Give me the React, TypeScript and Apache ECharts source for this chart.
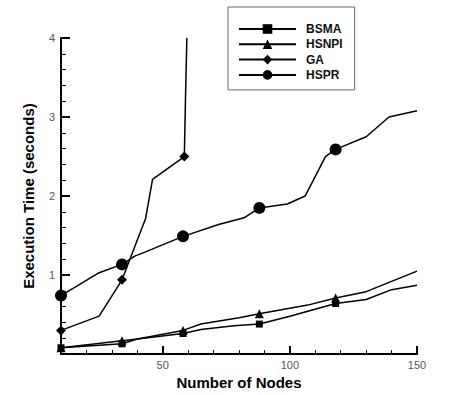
import React, { useEffect, useRef } from "react";
import * as echarts from "echarts";

const seriesNames = ["BSMA", "HSNPI", "GA", "HSPR"];
const seriesSymbols = ["rect", "triangle", "diamond", "circle"];
const seriesSymbolSizes = [7, 9, 10, 12];

const bsmaX = [10, 34, 40, 58, 65, 78, 88, 100, 118, 130, 139.5, 150];
const bsmaY = [0.08, 0.13, 0.19, 0.26, 0.31, 0.36, 0.38, 0.48, 0.64, 0.69, 0.81, 0.87];
const bsmaMarked = [10, 34, 58, 88, 118];

const hsnpiX = [10, 34, 40, 58, 65, 80, 88, 107, 118, 130, 150];
const hsnpiY = [0.08, 0.17, 0.19, 0.3, 0.38, 0.46, 0.51, 0.62, 0.71, 0.79, 1.05];
const hsnpiMarked = [10, 34, 58, 88, 118];

const gaX = [10, 25, 34, 43.3, 46, 58.5, 59, 59.5];
const gaY = [0.3, 0.48, 0.94, 1.72, 2.21, 2.5, 3.3, 4.0];
const gaMarked = [10, 34, 58.5];

const hsprX = [10, 25, 34, 39, 43, 58, 72, 82, 88, 99, 106, 114, 118, 130, 139, 150];
const hsprY = [0.74, 1.03, 1.135, 1.24, 1.29, 1.49, 1.64, 1.725, 1.85, 1.9, 2.0, 2.5, 2.59, 2.75, 3.0, 3.08];
const hsprMarked = [10, 34, 58, 88, 118];

const xMajorTicks = [50, 100, 150];

const FONT = "'Liberation Sans', Arial, Helvetica, sans-serif";

function buildData(xs: number[], ys: number[], marked: number[]) {
  return xs.map((x, i) => {
    const item: any = { value: [x, ys[i]] };
    if (!marked.includes(x)) item.symbol = "none";
    return item;
  });
}

export default function App() {
  const ref = useRef<HTMLDivElement>(null);
  useEffect(() => {
    if (!ref.current) return;
    const chart = echarts.init(ref.current, null, { renderer: "svg" });
    const allX = [bsmaX, hsnpiX, gaX, hsprX];
    const allY = [bsmaY, hsnpiY, gaY, hsprY];
    const allM = [bsmaMarked, hsnpiMarked, gaMarked, hsprMarked];
    const series = seriesNames.map((name, k) => ({
      name,
      type: "line",
      xAxisIndex: 0,
      yAxisIndex: 0,
      data: buildData(allX[k], allY[k], allM[k]),
      symbol: seriesSymbols[k],
      symbolSize: seriesSymbolSizes[k],
      showSymbol: true,
      clip: false,
      lineStyle: { color: "#000", width: 1.5 },
      itemStyle: { color: "#000" },
      emphasis: { disabled: true },
    }));
    chart.setOption({
      animation: false,
      backgroundColor: "#fff",
      textStyle: { fontFamily: FONT },
      grid: { left: 61, right: 57, top: 38, bottom: 33, containLabel: false },
      legend: {
        orient: "vertical",
        left: 228,
        top: 7,
        data: seriesNames,
        itemWidth: 57,
        itemHeight: 12,
        itemGap: 3.3,
        padding: [16, 12, 9, 10],
        borderColor: "#666",
        borderWidth: 1,
        backgroundColor: "#fff",
        textStyle: {
          fontFamily: FONT,
          fontSize: 12,
          fontWeight: "bold",
          color: "#111",
          lineHeight: 12,
          padding: [0, 0, 0, 5],
        },
        selectedMode: false,
      },
      xAxis: [
        {
          type: "value",
          min: 10,
          max: 150,
          interval: 10,
          name: "Number of Nodes",
          nameLocation: "middle",
          nameGap: 12,
          nameTextStyle: { fontFamily: FONT, fontSize: 15, fontWeight: "bold", color: "#000" },
          axisLine: { show: true, onZero: false, lineStyle: { color: "#000", width: 2 } },
          axisTick: { show: true, inside: true, length: 4, lineStyle: { color: "#000", width: 1 } },
          axisLabel: {
            show: true,
            margin: 5,
            fontSize: 11,
            color: "#555",
            fontFamily: FONT,
            formatter: (v: number) => (xMajorTicks.includes(v) ? String(v) : ""),
          },
          splitLine: { show: false },
        },
        {
          type: "value",
          min: 10,
          max: 150,
          position: "bottom",
          axisLine: { show: false, onZero: false },
          axisTick: {
            show: true,
            inside: true,
            length: 8,
            customValues: xMajorTicks,
            lineStyle: { color: "#000", width: 2 },
          },
          axisLabel: { show: false },
          splitLine: { show: false },
        },
      ],
      yAxis: {
        type: "value",
        min: 0,
        max: 4,
        interval: 1,
        name: "Execution Time (seconds)",
        nameLocation: "middle",
        nameGap: 25,
        nameTextStyle: { fontFamily: FONT, fontSize: 15, fontWeight: "bold", color: "#000" },
        axisLine: { show: true, onZero: false, lineStyle: { color: "#000", width: 2 } },
        axisTick: { show: true, inside: true, length: 9, lineStyle: { color: "#000", width: 2 } },
        minorTick: { show: true, splitNumber: 5, length: 5, lineStyle: { color: "#000", width: 1 } },
        axisLabel: {
          show: true,
          margin: 6,
          fontSize: 11,
          color: "#555",
          fontFamily: FONT,
          formatter: (v: number) => (v === 0 ? "" : String(v)),
        },
        splitLine: { show: false },
        minorSplitLine: { show: false },
      },
      series,
    });
    return () => chart.dispose();
  }, []);
  return (
    <div
      ref={ref}
      style={{ position: "fixed", left: 0, top: 0, width: 474, height: 395 }}
    />
  );
}
